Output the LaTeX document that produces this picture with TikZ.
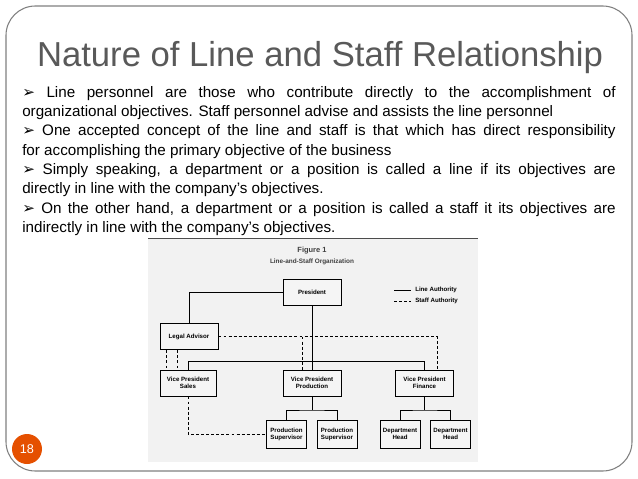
\documentclass[tikz,border=0pt]{standalone}
\usepackage{fontspec}
\setmainfont{Liberation Sans}
\newfontfamily\djv{DejaVu Sans}
\begin{document}
\begin{tikzpicture}[x=0.75pt,y=-0.75pt,
  bx/.style={draw=black,line width=0.7pt,fill=gray!8,inner sep=0pt,font=\fontsize{4.6}{5.2}\selectfont\bfseries,align=center},
  ln/.style={line width=0.7pt},
  st/.style={line width=0.7pt,dash pattern=on 2.2pt off 1.6pt}]
\useasboundingbox (0,0) rectangle (638,478);
\draw[gray,line width=0.8pt,rounded corners=22pt] (6,6) rectangle (632,471);
\node[text=black!65,font=\fontsize{26}{30}\selectfont,anchor=base] (title) at (320,67) {Nature of Line and Staff Relationship};
\node[anchor=north west,inner sep=0pt,text width=445pt,align=justify,font=\fontsize{11.4}{14.5}\selectfont] (body) at (22,86) {%
{\djv ➢} Line personnel are those who contribute directly to the accomplishment of\linebreak organizational objectives. Staff personnel advise and assists the line personnel\par
{\djv ➢} One accepted concept of the line and staff is that which has direct responsibility\linebreak for accomplishing the primary objective of the business\par
{\djv ➢} Simply speaking, a department or a position is called a line if its objectives are\linebreak directly in line with the company’s objectives.\par
{\djv ➢} On the other hand, a department or a position is called a staff it its objectives are\linebreak indirectly in line with the company’s objectives.};
% figure
\fill[gray!10] (148,239) rectangle (478,462);
\draw[black!70,line width=0.8pt] (148,238.5) -- (478,238.5);
\node[font=\fontsize{5.6}{6}\selectfont\bfseries,text=black!75] (fig) at (312,251) {Figure 1};
\node[font=\fontsize{4.8}{5}\selectfont\bfseries,text=black!75] (figsub) at (312,262) {Line-and-Staff Organization};
\node[bx,minimum width=43.5pt,minimum height=20pt] (pres) at (312,292.5) {President};
\node[bx,minimum width=43.5pt,minimum height=20pt] (legal) at (189,336.5) {Legal Advisor};
\node[bx,minimum width=42pt,minimum height=19.5pt] (vps) at (188,383) {Vice President\\Sales};
\node[bx,minimum width=43.5pt,minimum height=19.5pt] (vpp) at (312,383) {Vice President\\Production};
\node[bx,minimum width=44pt,minimum height=19.5pt] (vpf) at (424.5,383) {Vice President\\Finance};
\node[bx,minimum width=29.5pt,minimum height=21pt] (ps1) at (286.5,434) {Production\\Supervisor};
\node[bx,minimum width=30pt,minimum height=21pt] (ps2) at (337,434) {Production\\Supervisor};
\node[bx,minimum width=30pt,minimum height=21pt] (dh1) at (400,434) {Department\\Head};
\node[bx,minimum width=29.5pt,minimum height=21pt] (dh2) at (450.5,434) {Department\\Head};
% legend
\coordinate (la) at (394,290); \coordinate (lb) at (411,290);
\coordinate (sa) at (394,301); \coordinate (sb) at (411,301);
\draw[ln] (la) -- (lb);
\draw[st] (sa) -- (sb);
\node[anchor=west,font=\fontsize{4.6}{5}\selectfont\bfseries,inner sep=1pt,xshift=2pt] (ltxt) at (lb) {Line Authority};
\node[anchor=west,font=\fontsize{4.6}{5}\selectfont\bfseries,inner sep=1pt,xshift=2pt] (stxt) at (sb) {Staff Authority};
% junction coordinates
\coordinate (jp) at (312,410);
\coordinate (jf) at (424.5,410);
\coordinate (sp) at (302,336.5);
% line authority
\draw[ln] (pres.west) -| (legal.north);
\draw[ln] (pres.south) -- (vpp.north);
\draw[ln] (vps.north) -- ++(0,-8) -| (vpf.north);
\draw[ln] (vpp.south) -- (jp);
\draw[ln] (ps1.north) |- (jp) -| (ps2.north);
\draw[ln] (vpf.south) -- (jf);
\draw[ln] (dh1.north) |- (jf) -| (dh2.north);
% staff authority
\draw[st] (legal.east) -| ([xshift=9.4pt]vpf.north);
\draw[st] (sp) -- (sp |- vpp.north);
\draw[st] ([xshift=-17pt]legal.south) -- ([xshift=-17pt]legal.south |- vps.north);
\draw[st] ([xshift=-9pt]legal.south) -- ([xshift=-9pt]legal.south |- vps.north);
\draw[st] (vps.south) |- (ps1.west);
% page number
\fill[orange!70!red!90!black] (27,449) circle (15);
\node[text=white,font=\fontsize{9.5}{10}\selectfont] (pg) at (27,449) {18};
\end{tikzpicture}
\end{document}
